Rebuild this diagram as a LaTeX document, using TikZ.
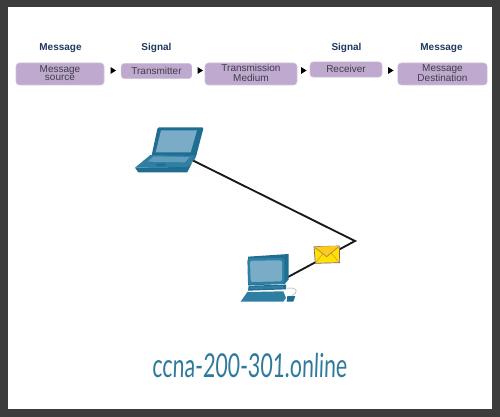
\documentclass[tikz,border=0pt]{standalone}
\usepackage{fontspec}
\setmainfont{Liberation Sans}
\newfontfamily\wmfont{Lato}
\definecolor{frameC}{HTML}{3C3C3C}
\definecolor{boxC}{HTML}{BFA9CF}
\definecolor{headC}{HTML}{20395F}
\definecolor{txtC}{HTML}{3F3F4A}
\definecolor{blueD}{HTML}{1F6E91}
\definecolor{blueM}{HTML}{2F7FA3}
\definecolor{blueL}{HTML}{7AACC8}
\definecolor{wmC}{HTML}{2F7A9C}
\newcommand{\twolines}[2]{\raisebox{1pt}{\begin{tabular}{@{}c@{}}#1\\#2\end{tabular}}}
\tikzset{
 flowbox/.style={fill=boxC,draw=boxC!70!white,line width=0.4pt,rounded corners=2.5pt,inner sep=0pt,align=center,font=\fontsize{7.5pt}{6.2pt}\selectfont,text=txtC},
 headtxt/.style={font=\fontsize{7.5pt}{8pt}\selectfont\bfseries,text=headC,inner sep=0pt,anchor=base},
 tri/.style={fill=black,draw=none},
 linkline/.style={draw=black!90,line width=1.4pt,line join=miter},
}
\begin{document}
\begin{tikzpicture}[x=0.75pt,y=-0.75pt]
\useasboundingbox (0,0) rectangle (500,417);
\fill[frameC] (0,0) rectangle (500,417);
\fill[white] (8,7) rectangle (492,409);
% headers
\node[headtxt] (h1) at (60.5,50.5) {Message};
\node[headtxt] (h2) at (156.5,50.5) {Signal};
\node[headtxt] (h3) at (346.5,50.5) {Signal};
\node[headtxt] (h4) at (441.5,50.5) {Message};
% boxes
\node[flowbox,minimum width=66pt,minimum height=16.5pt] (b1) at (60,74) {\twolines{Message}{source}};
\node[flowbox,minimum width=53pt,minimum height=11.5pt] (b2) at (156.5,71) {\raisebox{0.8pt}{Transmitter}};
\node[flowbox,minimum width=69pt,minimum height=16.5pt] (b3) at (251,74) {\twolines{Transmission}{Medium}};
\node[flowbox,minimum width=54pt,minimum height=11.5pt] (b4) at (346,69.5) {\raisebox{0.8pt}{Receiver}};
\node[flowbox,minimum width=67pt,minimum height=16.5pt] (b5) at (442.5,74) {\twolines{Message}{Destination}};
% small triangles
\coordinate (t1) at (110.5,70.5);\coordinate (t2) at (197.5,70.5);
\coordinate (t3) at (301,70.5);\coordinate (t4) at (388,70.5);
\foreach \t in {t1,t2,t3,t4}{
  \fill[tri] (\t)++(0,-3.5) -- ++(5.5,3.5) -- ++(-5.5,3.5) -- cycle;
}
% connector
\coordinate (lapPort) at (192,160);
\coordinate (bend) at (355,241);
\coordinate (pcPort) at (288,277);
\draw[linkline] (lapPort) -- (bend) -- (pcPort);
% laptop
\begin{scope}[shift={(125,115)},x=0.25pt,y=-0.25pt]
 \fill[blueD,rounded corners=1pt] (98,37) -- (236,37) -- (213,125) -- (205,140) -- (78,130) -- cycle;
 \fill[blueL] (108,46) -- (216,46) -- (197,112) -- (92,112) -- cycle;
 \fill[blueM] (76,120) -- (210,122) -- (190,158) -- (30,158) -- cycle;
 \fill[blueD] (30,158) -- (190,156) -- (205,135) -- (187,172) -- (40,172) -- cycle;
 \fill[blueL!65!blueM] (86,124) -- (194,126) -- (180,142) -- (68,140) -- cycle;
 \fill[blueD] (92,146) -- (124,146) -- (118,154) -- (98,154) -- cycle;
\end{scope}
% computer
\begin{scope}[shift={(230,230)},x=0.25pt,y=-0.25pt]
 \draw[gray!40,line width=0.7pt] (172,175) .. controls (205,170) and (205,190) .. (185,197);
 \fill[blueD] (54,80) -- (176,72) -- (176,148) -- (164,162) -- (54,166) -- cycle;
 \fill[blueM,rounded corners=2pt] (52,84) -- (164,84) -- (164,162) -- (54,164) -- cycle;
 \fill[blueL,rounded corners=1.5pt] (60,92) -- (156,91) -- (156,154) -- (62,156) -- cycle;
 \fill[blueD] (56,167) -- (168,164) -- (168,178) -- (54,182) -- cycle;
 \fill[blueM] (60,170) -- (160,168) -- (160,175) -- (60,177) -- cycle;
 \fill[blueM] (52,186) -- (160,184) -- (168,204) -- (160,215) -- (32,215) -- cycle;
 \fill[blueD] (172,198) -- (196,198) -- (190,215) -- (170,215) -- cycle;
\end{scope}
% envelope
\begin{scope}[shift={(230,230)},x=0.25pt,y=-0.25pt]
 \fill[yellow!85!orange,draw=gray!70!violet,line width=0.5pt] (252,50) -- (328,48) -- (329,98) -- (256,100) -- cycle;
 \fill[yellow!60!orange!90!white] (252,50) -- (328,48) -- (290,80) -- cycle;
 \draw[gray!70!orange,line width=0.5pt] (254,52) -- (290,80) -- (326,50);
 \draw[orange!60!gray,line width=0.3pt] (257,98) -- (278,72) (327,96) -- (304,70);
\end{scope}
\node[inner sep=0pt,text=wmC,font=\wmfont\fontsize{19pt}{19pt}\selectfont,xscale=0.84,yscale=1.3,xslant=0.06,transform shape] (wm) at (250,366) {ccna-200-301.online};
\end{tikzpicture}
\end{document}
